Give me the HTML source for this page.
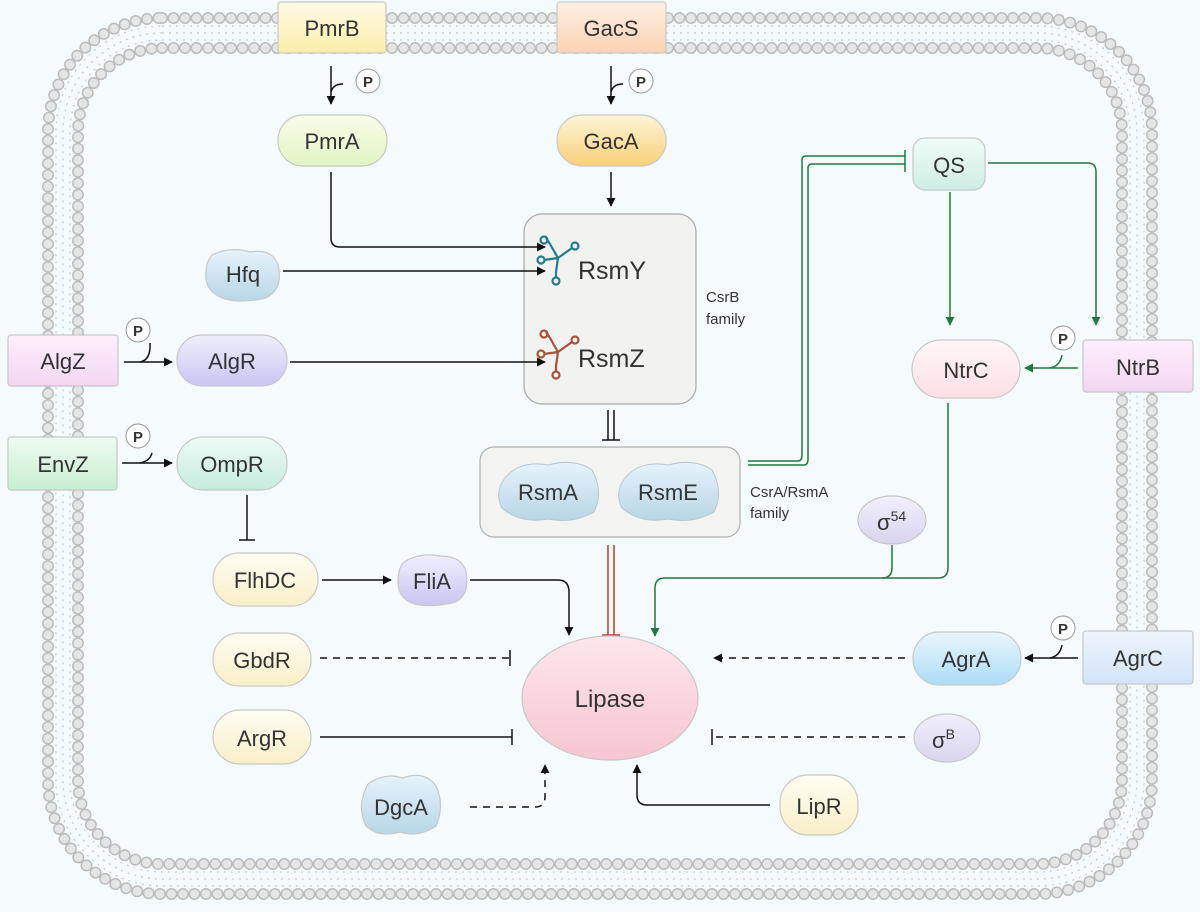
<!DOCTYPE html>
<html><head><meta charset="utf-8"><style>
html,body{margin:0;padding:0;background:#fff}
svg{display:block}
text{font-family:"Liberation Sans","DejaVu Sans",sans-serif;fill:#333}
</style></head><body>
<svg width="1200" height="912" viewBox="0 0 1200 912" xmlns="http://www.w3.org/2000/svg">
<defs>
<marker id="a" viewBox="0 0 10 10" refX="9" refY="5" markerWidth="9" markerHeight="9" orient="auto" markerUnits="userSpaceOnUse"><path d="M0,0 L10,5 L0,10 z" fill="#111"/></marker>
<marker id="g" viewBox="0 0 10 10" refX="9" refY="5" markerWidth="9" markerHeight="9" orient="auto" markerUnits="userSpaceOnUse"><path d="M0,0 L10,5 L0,10 z" fill="#1f7a3f"/></marker>
<linearGradient id="yel" x1="0" y1="0" x2="0" y2="1"><stop offset="0" stop-color="#fffbe6"/><stop offset="1" stop-color="#fbeeaa"/></linearGradient>
<linearGradient id="org" x1="0" y1="0" x2="0" y2="1"><stop offset="0" stop-color="#fff0e4"/><stop offset="1" stop-color="#fbd2b2"/></linearGradient>
<linearGradient id="lgr" x1="0" y1="0" x2="0" y2="1"><stop offset="0" stop-color="#f8fde8"/><stop offset="1" stop-color="#e2f5c4"/></linearGradient>
<linearGradient id="gac" x1="0" y1="0" x2="0" y2="1"><stop offset="0" stop-color="#fff5d8"/><stop offset="1" stop-color="#f8d078"/></linearGradient>
<linearGradient id="pnk" x1="0" y1="0" x2="0" y2="1"><stop offset="0" stop-color="#fdf0fb"/><stop offset="1" stop-color="#f4d6f2"/></linearGradient>
<linearGradient id="lav" x1="0" y1="0" x2="0" y2="1"><stop offset="0" stop-color="#efeffd"/><stop offset="1" stop-color="#c9c6f2"/></linearGradient>
<linearGradient id="grn" x1="0" y1="0" x2="0" y2="1"><stop offset="0" stop-color="#eefbf0"/><stop offset="1" stop-color="#c8efd0"/></linearGradient>
<linearGradient id="teal" x1="0" y1="0" x2="0" y2="1"><stop offset="0" stop-color="#eefbf6"/><stop offset="1" stop-color="#c5ecdf"/></linearGradient>
<linearGradient id="crm" x1="0" y1="0" x2="0" y2="1"><stop offset="0" stop-color="#fffdf2"/><stop offset="1" stop-color="#f8efc8"/></linearGradient>
<linearGradient id="blu" x1="0" y1="0" x2="0" y2="1"><stop offset="0" stop-color="#e6f3fb"/><stop offset="1" stop-color="#b8d6e6"/></linearGradient>
<linearGradient id="sky" x1="0" y1="0" x2="0" y2="1"><stop offset="0" stop-color="#e8f6fd"/><stop offset="1" stop-color="#acdcf6"/></linearGradient>
<linearGradient id="agc" x1="0" y1="0" x2="0" y2="1"><stop offset="0" stop-color="#eef5fd"/><stop offset="1" stop-color="#d3e3f8"/></linearGradient>
<linearGradient id="ntc" x1="0" y1="0" x2="0" y2="1"><stop offset="0" stop-color="#fff6f8"/><stop offset="1" stop-color="#fbe0e6"/></linearGradient>
<linearGradient id="lip" x1="0" y1="0" x2="0" y2="1"><stop offset="0" stop-color="#fde6ec"/><stop offset="1" stop-color="#f7c6d2"/></linearGradient>
<linearGradient id="qs" x1="0" y1="0" x2="0" y2="1"><stop offset="0" stop-color="#f0fcf8"/><stop offset="1" stop-color="#cdeee4"/></linearGradient>
<linearGradient id="sig" x1="0" y1="0" x2="0" y2="1"><stop offset="0" stop-color="#f2f0fb"/><stop offset="1" stop-color="#d8d4ef"/></linearGradient>
</defs>
<rect width="1200" height="912" fill="#f5fbfc"/>
<g fill="none">
<rect x="56" y="26" width="1088" height="860" rx="106" stroke="#cccccc" stroke-width="1.3" stroke-dasharray="2 5"/>
<rect x="63" y="33" width="1074" height="846" rx="99" stroke="#cccccc" stroke-width="1.3" stroke-dasharray="2 5"/>
<rect x="70" y="40" width="1060" height="832" rx="92" stroke="#cccccc" stroke-width="1.3" stroke-dasharray="2 5"/>
<rect x="48" y="18" width="1104" height="876" rx="114" stroke="#bcbcbc" stroke-width="12" stroke-dasharray="0 11.5" stroke-linecap="round"/>
<rect x="48" y="18" width="1104" height="876" rx="114" stroke="#e4e6e6" stroke-width="9" stroke-dasharray="0 11.5" stroke-linecap="round"/>
<rect x="78" y="48" width="1044" height="816" rx="84" stroke="#bcbcbc" stroke-width="12" stroke-dasharray="0 11.5" stroke-linecap="round"/>
<rect x="78" y="48" width="1044" height="816" rx="84" stroke="#e4e6e6" stroke-width="9" stroke-dasharray="0 11.5" stroke-linecap="round"/>
</g>

<rect x="524" y="214" width="172" height="190" rx="18" fill="#f2f2f0" stroke="#a8a8a8" stroke-width="1.2"/>
<rect x="480" y="447" width="260" height="90" rx="14" fill="#f3f3f1" stroke="#b0b0b0" stroke-width="1.2"/>

<g fill="none" stroke="#111" stroke-width="1.5">
<path d="M331,66 V104" marker-end="url(#a)"/><path d="M331,92 Q333,84 343,84"/>
<path d="M611,66 V104" marker-end="url(#a)"/><path d="M611,92 Q613,84 623,84"/>
<path d="M611,172 V206" marker-end="url(#a)"/>
<path d="M331,172 V238 Q331,247 340,247 H545" marker-end="url(#a)"/>
<path d="M283,271 H545" marker-end="url(#a)"/>
<path d="M290,362 H545" marker-end="url(#a)"/>
<path d="M124,362 H172" marker-end="url(#a)"/><path d="M140,362 Q151,360 150,343"/>
<path d="M122,463 H172" marker-end="url(#a)"/><path d="M140,463 Q150,461 152,453"/>
<path d="M247,495 V540 M239,540 H255"/>
<path d="M322,580 H391" marker-end="url(#a)"/>
<path d="M470,580 H558 Q569,580 569,592 V635" marker-end="url(#a)"/>
<path d="M608,410 V440 M614,410 V440 M602,440 H620"/>
<path d="M320,658 H510" stroke-dasharray="7 6"/><path d="M510,650 V666"/>
<path d="M320,737 H512 M512,729 V745"/>
<path d="M470,807 H535 Q545,807 545,797 V765" stroke-dasharray="7 6" marker-end="url(#a)"/>
<path d="M770,805 H647 Q637,805 637,795 V765" marker-end="url(#a)"/>
<path d="M905,737 H712" stroke-dasharray="7 6"/><path d="M712,729 V745"/>
<path d="M905,658 H714" stroke-dasharray="7 6" marker-end="url(#a)"/>
<path d="M1078,658 H1025" marker-end="url(#a)"/><path d="M1050,658 Q1060,656 1062,645"/>
</g>
<g fill="none" stroke="#c0392b" stroke-width="1.5">
<path d="M608,545 V635 M614,545 V635 M602,635 H620"/>
</g>
<g fill="none" stroke="#1f7a3f" stroke-width="1.5">
<path d="M748,461 H798 Q802,461 802,455 V160 Q802,156 806,156 H905"/>
<path d="M748,465 H804 Q808,465 808,459 V168 Q808,164 812,164 H905"/>
<path d="M905,150 V172"/>
<path d="M950,192 V325" marker-end="url(#g)"/>
<path d="M988,163 H1088 Q1096,163 1096,172 V325" marker-end="url(#g)"/>
<path d="M1078,368 H1025" marker-end="url(#g)"/><path d="M1050,368 Q1060,366 1062,355"/>
<path d="M948,403 V568 Q948,578 938,578 H665 Q655,578 655,588 V636" marker-end="url(#g)"/>
<path d="M892,545 V568 Q892,578 882,578"/>
</g>

<g fill="none" stroke-width="2.2">
<g stroke="#1f7d8c" transform="translate(558,258)"><path d="M0,0 L-8,-14 M-8,-14 l-4,-6 M0,0 l14,-10 M0,0 l-14,2 M0,0 l-2,14 M-2,14 l0,6"/><circle cx="-14" cy="-18" r="3.5"/><circle cx="17" cy="-12" r="3.5"/><circle cx="-17" cy="2" r="3.5"/><circle cx="-2" cy="23" r="3.5"/></g>
<g stroke="#a8523a" transform="translate(558,352)"><path d="M0,0 L-8,-14 M-8,-14 l-4,-6 M0,0 l14,-10 M0,0 l-14,2 M0,0 l-2,14 M-2,14 l0,6"/><circle cx="-14" cy="-18" r="3.5"/><circle cx="17" cy="-12" r="3.5"/><circle cx="-17" cy="2" r="3.5"/><circle cx="-2" cy="23" r="3.5"/></g>
</g>
<path d="M505,478 Q520,460 548,465 Q575,458 592,470 Q604,492 594,512 Q572,524 548,519 Q520,524 502,508 Q494,492 505,478z" fill="url(#blu)" stroke="#b8c8d0"/>
<path d="M625,478 Q640,460 668,465 Q695,458 712,470 Q724,492 714,512 Q692,524 668,519 Q640,524 622,508 Q614,492 625,478z" fill="url(#blu)" stroke="#b8c8d0"/>

<g stroke="#c8c8c8" stroke-width="1.2">
<rect x="278" y="2" width="108" height="51" rx="3" fill="url(#yel)"/>
<rect x="557" y="2" width="109" height="51" rx="3" fill="url(#org)"/>
<rect x="278" y="115" width="109" height="51" rx="25" fill="url(#lgr)"/>
<rect x="557" y="115" width="109" height="51" rx="25" fill="url(#gac)"/>
<path d="M212,255 Q230,246 250,252 Q272,248 278,265 Q284,288 266,298 Q240,304 222,298 Q204,290 206,272 Q206,262 212,255z" fill="url(#blu)"/>
<rect x="8" y="335" width="110" height="51" rx="3" fill="url(#pnk)"/>
<rect x="177" y="335" width="110" height="51" rx="25" fill="url(#lav)"/>
<rect x="8" y="437" width="109" height="53" rx="3" fill="url(#grn)"/>
<rect x="177" y="437" width="110" height="53" rx="26" fill="url(#teal)"/>
<rect x="213" y="553" width="105" height="53" rx="26" fill="url(#crm)"/>
<path d="M404,562 Q420,552 440,556 Q462,556 466,572 Q470,594 456,602 Q432,608 414,604 Q398,598 398,582 Q398,568 404,562z" fill="url(#lav)"/>
<rect x="213" y="633" width="98" height="53" rx="26" fill="url(#crm)"/>
<rect x="213" y="710" width="98" height="54" rx="27" fill="url(#crm)"/>
<path d="M368,784 Q385,772 402,778 Q425,770 436,786 Q445,806 436,826 Q418,838 400,832 Q378,838 366,826 Q356,806 368,784z" fill="url(#blu)"/>
<rect x="780" y="775" width="78" height="60" rx="28" fill="url(#crm)"/>
<ellipse cx="610" cy="698" rx="88" ry="62" fill="url(#lip)"/>
<rect x="913" y="138" width="72" height="52" rx="12" fill="url(#qs)"/>
<rect x="912" y="340" width="108" height="58" rx="29" fill="url(#ntc)"/>
<rect x="1083" y="340" width="110" height="52" rx="3" fill="url(#pnk)"/>
<ellipse cx="892" cy="520" rx="34" ry="24" fill="url(#sig)"/>
<rect x="913" y="632" width="108" height="53" rx="26" fill="url(#sky)"/>
<rect x="1083" y="631" width="110" height="53" rx="3" fill="url(#agc)"/>
<ellipse cx="947" cy="738" rx="33" ry="24" fill="url(#sig)"/>
</g>
<g fill="#fff" stroke="#999" stroke-width="1">
<circle cx="368" cy="81" r="12"/><circle cx="641" cy="81" r="12"/><circle cx="138" cy="330" r="12"/><circle cx="138" cy="436" r="12"/><circle cx="1063" cy="338" r="12"/><circle cx="1063" cy="628" r="12"/>
</g>
<g font-size="15" font-weight="bold" text-anchor="middle">
<text x="368" y="87">P</text><text x="641" y="87">P</text><text x="138" y="336">P</text><text x="138" y="442">P</text><text x="1063" y="344">P</text><text x="1063" y="634">P</text>
</g>
<g font-size="22" text-anchor="middle">
<text x="332" y="36">PmrB</text><text x="611" y="36">GacS</text>
<text x="332" y="149">PmrA</text><text x="611" y="149">GacA</text>
<text x="243" y="282">Hfq</text>
<text x="63" y="369">AlgZ</text><text x="232" y="369">AlgR</text>
<text x="63" y="472">EnvZ</text><text x="232" y="472">OmpR</text>
<text x="265" y="588">FlhDC</text><text x="432" y="589">FliA</text>
<text x="262" y="668">GbdR</text><text x="262" y="746">ArgR</text>
<text x="401" y="815">DgcA</text><text x="819" y="814">LipR</text>
<text x="610" y="707" font-size="24">Lipase</text>
<text x="949" y="173">QS</text><text x="966" y="378">NtrC</text><text x="1138" y="375">NtrB</text>
<text x="966" y="667">AgrA</text><text x="1138" y="666">AgrC</text>
<text x="548" y="500">RsmA</text><text x="668" y="500">RsmE</text>
</g>
<g font-size="25" text-anchor="start"><text x="578" y="279">RsmY</text><text x="578" y="367">RsmZ</text></g>
<text x="877" y="530" font-size="22">σ<tspan font-size="14" dy="-9">54</tspan></text>
<text x="932" y="748" font-size="22">σ<tspan font-size="14" dy="-9">B</tspan></text>
<g font-size="15"><text x="706" y="302">CsrB</text><text x="706" y="324">family</text><text x="750" y="497">CsrA/RsmA</text><text x="750" y="518">family</text></g>
</svg>
</body></html>
